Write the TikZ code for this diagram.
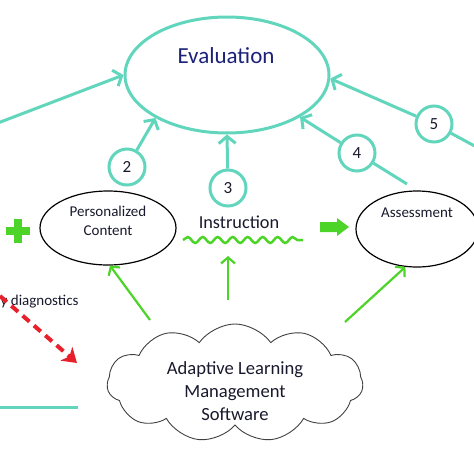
\documentclass[tikz,border=0pt]{standalone}
\usepackage{fontspec}
\setmainfont{Carlito}
\usetikzlibrary{arrows.meta,shapes.geometric,shapes.symbols,decorations.pathmorphing}
\definecolor{tealc}{RGB}{98,214,188}
\definecolor{greenc}{RGB}{76,212,40}
\definecolor{redc}{RGB}{232,32,44}
\definecolor{navyc}{RGB}{28,34,120}
\definecolor{inkc}{RGB}{25,25,45}
\tikzset{
  tealarrow/.style={draw=tealc,line width=3pt,-{Straight Barb[length=7pt,width=17pt]}},
  tealline/.style={draw=tealc,line width=3pt},
  numcircle/.style={circle,draw=tealc,line width=3pt,minimum size=36pt,inner sep=0pt,text=inkc,font=\fontsize{17}{20}\selectfont},
  greenarrow/.style={draw=greenc,line width=2.2pt,-{Straight Barb[length=6pt,width=14pt]}},
  blackoval/.style={ellipse,draw=black,line width=1.2pt,inner sep=0pt},
  lbl/.style={text=inkc,align=center,font=\fontsize{15}{19}\selectfont},
}
\begin{document}
\begin{tikzpicture}[x=1pt,y=-1pt]
\useasboundingbox (0,0) rectangle (474,474);
% Evaluation
\node[ellipse,draw=tealc,line width=3pt,minimum width=204pt,minimum height=116pt,inner sep=0pt] (eval) at (227,75) {};
\node[text=navyc,font=\fontsize{23}{28}\selectfont] (evaltxt) at (226,56) {Evaluation};
% numbered circles
\node[numcircle] (c2) at (127,167) {2};
\node[numcircle] (c3) at (228,188) {3};
\node[numcircle] (c4) at (357,153) {4};
\node[numcircle] (c5) at (434,124) {5};
\coordinate (a1) at (-10,126);
\coordinate (a4) at (407,184);
\coordinate (a5) at (482,150);
\draw[tealarrow] (a1) -- (eval.180);
\draw[tealarrow] (c2) -- (eval.211);
\draw[tealarrow] (c3) -- (eval.270);
\draw[tealline] (a4) -- (c4);
\draw[tealarrow] (c4) -- (eval.330);
\draw[tealline] (a5) -- (c5);
\draw[tealarrow] (c5) -- (eval.-2);
% second row
\fill[greenc] (13.5,219) rectangle (21.5,243);
\fill[greenc] (5.5,227) rectangle (29.5,235);
\node[blackoval,minimum width=136pt,minimum height=74pt] (pc) at (108,228) {};
\node[lbl] (pctxt) at (108,221) {Personalized\\Content};
\node[text=inkc,font=\fontsize{18.3}{22}\selectfont] (instr) at (239,222) {Instruction};
\coordinate (w1) at (183,240);
\coordinate (w2) at (303,240);
\draw[greenc,line width=2.5pt,decorate,decoration={snake,amplitude=3pt,segment length=15pt}] (w1) -- (w2);
\fill[greenc] (320,222) -- (337,222) -- (337,218) -- (349,227) -- (337,236) -- (337,232) -- (320,232) -- cycle;
\node[blackoval,minimum width=122pt,minimum height=76pt] (ass) at (417,229) {};
\node[lbl] (asstxt) at (417,213) {Assessment};
% cloud
\node[cloud,cloud puffs=11,cloud puff arc=110,aspect=2.1,draw=black!75,line width=0.9pt,minimum width=256pt,minimum height=118pt,inner sep=0pt] (cloud) at (235,383) {};
\node[text=inkc,align=center,font=\fontsize{18.6}{23}\selectfont] (cloudtxt) at (235,391) {Adaptive Learning\\Management\\Software};
\coordinate (g1) at (150,320);
\coordinate (g2) at (228,300);
\coordinate (g3) at (345,322);
\coordinate (wi) at (228,256);
\draw[greenarrow] (g1) -- (pc.273);
\draw[greenarrow] (g2) -- (wi);
\draw[greenarrow] (g3) -- (ass.253);
% diagnostics
\node[lbl,anchor=west,inner sep=0pt] (diag) at (0.5,302) {y diagnostics};
\coordinate (r1) at (0,296);
\coordinate (r2) at (77,363);
\draw[redc,line width=4pt,dash pattern=on 9pt off 6pt,-{Stealth[length=14pt,width=18pt,inset=4pt]}] (r1) -- (r2);
% bottom left teal line
\coordinate (t1) at (0,407);
\coordinate (t2) at (78,407);
\draw[tealline] (t1) -- (t2);
\end{tikzpicture}
\end{document}
